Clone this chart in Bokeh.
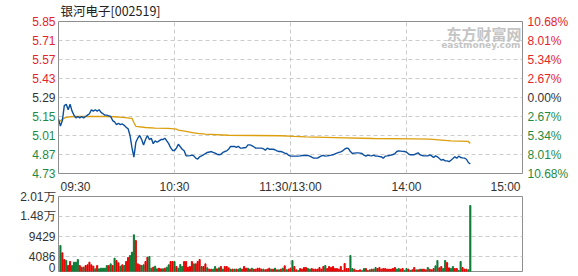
from bokeh.plotting import figure
from bokeh.models import FixedTicker, Range1d
from bokeh.layouts import column, row
from bokeh.core.properties import value
from bokeh.embed import file_html
from bokeh.resources import INLINE

# ---------------- data ----------------
title = "银河电子[002519]"
price_ticks = [5.85, 5.71, 5.57, 5.43, 5.29, 5.15, 5.01, 4.87, 4.73]
price_tick_labels = ["5.85", "5.71", "5.57", "5.43", "5.29", "5.15", "5.01", "4.87", "4.73"]
pct_labels = ["10.68%", "8.01%", "5.34%", "2.67%", "0.00%", "2.67%", "5.34%", "8.01%", "10.68%"]
tick_sides = ["up", "up", "up", "up", "flat", "down", "down", "down", "down"]
time_ticks = [0, 60, 120, 180, 240]
time_labels = ["09:30", "10:30", "11:30/13:00", "14:00", "15:00"]
vol_ticks = [0, 4086, 9429, 14800, 20100]
vol_tick_labels = ["0", "4086", "9429", "1.48万", "2.01万"]

# price per minute from 09:30 (minute 0) to minute 213
price = [
    5.13, 5.08, 5.12, 5.23, 5.24, 5.20, 5.24, 5.19, 5.16, 5.14,
    5.15, 5.14, 5.15, 5.14, 5.15, 5.16, 5.17, 5.20, 5.19, 5.20,
    5.19, 5.20, 5.18, 5.17, 5.16, 5.16, 5.155, 5.15, 5.12, 5.11,
    5.09, 5.10, 5.09, 5.095, 5.085, 5.07, 5.06, 5.01, 4.92, 4.85,
    4.96, 4.99, 5.01, 4.98, 4.94, 4.98, 5.01, 4.98, 4.99, 4.95,
    4.97, 4.96, 4.97, 4.98, 4.98, 4.99, 4.97, 4.95, 4.92, 4.90,
    4.90, 4.917, 4.946, 4.927, 4.909, 4.897, 4.86, 4.86, 4.862, 4.865,
    4.86, 4.843, 4.836, 4.853, 4.86, 4.868, 4.877, 4.885, 4.888, 4.892,
    4.885, 4.88, 4.872, 4.868, 4.872, 4.885, 4.892, 4.897, 4.909, 4.929,
    4.929, 4.929, 4.922, 4.931, 4.917, 4.917, 4.92, 4.922, 4.941, 4.941,
    4.935, 4.927, 4.917, 4.917, 4.917, 4.917, 4.912, 4.902, 4.917, 4.909,
    4.909, 4.909, 4.905, 4.897, 4.892, 4.892, 4.887, 4.88, 4.877, 4.865,
    4.858, 4.858, 4.858, 4.858, 4.858, 4.86, 4.863, 4.863, 4.863, 4.863,
    4.858, 4.85, 4.843, 4.843, 4.843, 4.853, 4.86, 4.863, 4.858, 4.86,
    4.863, 4.865, 4.868, 4.875, 4.88, 4.885, 4.89, 4.897, 4.909, 4.917,
    4.914, 4.892, 4.877, 4.88, 4.882, 4.882, 4.88, 4.877, 4.865, 4.858,
    4.865, 4.862, 4.86, 4.865, 4.858, 4.858, 4.855, 4.853, 4.843, 4.858,
    4.86, 4.863, 4.865, 4.87, 4.877, 4.892, 4.897, 4.895, 4.893, 4.892,
    4.887, 4.875, 4.868, 4.868, 4.868, 4.877, 4.882, 4.868, 4.863, 4.86,
    4.86, 4.86, 4.868, 4.86, 4.848, 4.86, 4.853, 4.84, 4.828, 4.833,
    4.823, 4.823, 4.818, 4.828, 4.84, 4.853, 4.843, 4.858, 4.848, 4.845,
    4.843, 4.835, 4.811, 4.80,
]

# average price line (minute, value) read at its visible steps
avg_minutes = [0, 1, 2, 3, 4, 6, 9, 24, 29, 33, 38, 39, 40, 45, 50, 57, 61, 62, 66,
               70, 72, 76, 88, 115, 122, 128, 143, 163, 183, 192, 203, 212, 213]
avg_values = [5.106, 5.118, 5.130, 5.138, 5.143, 5.148, 5.150, 5.150, 5.148, 5.143,
              5.136, 5.106, 5.078, 5.069, 5.064, 5.062, 5.057, 5.049, 5.040,
              5.030, 5.025, 5.020, 5.012, 5.008, 5.003, 5.000, 4.995, 4.988, 4.985,
              4.983, 4.971, 4.966, 4.951]

# volume per minute, minutes 1..213 ; 1 = up (red), 0 = down (green)
volume = [
    6970, 5000, 3220, 2950, 1600, 2680, 1600, 2500, 2500, 3220,
    1600, 1160, 1160, 1600, 1790, 2500, 1790, 1430, 715, 1600,
    715, 890, 890, 890, 1600, 1600, 2050, 1600, 3570, 2950,
    2320, 1430, 1790, 1600, 2680, 3750, 4290, 5180, 9830, 8310,
    2050, 1790, 1600, 1790, 2680, 3840, 4020, 890, 1160, 1430,
    715, 890, 715, 715, 890, 1160, 1790, 2680, 2680, 2680,
    1340, 890, 1880, 1340, 2680, 2680, 1160, 1340, 2680, 2050,
    2050, 2680, 3220, 1340, 1340, 2050, 980, 630, 630, 630,
    1340, 710, 980, 1340, 630, 1340, 1340, 980, 630, 630,
    630, 630, 630, 890, 630, 1340, 890, 890, 630, 890,
    630, 630, 890, 890, 630, 630, 450, 630, 890, 630,
    630, 890, 450, 450, 630, 890, 1520, 450, 630, 890,
    2950, 1340, 450, 270, 800, 630, 1070, 1070, 800, 630,
    800, 630, 630, 630, 1070, 630, 1340, 1610, 800, 1340,
    1070, 1340, 800, 800, 630, 1340, 270, 2140, 800, 800,
    4290, 800, 630, 270, 270, 450, 270, 800, 800, 270,
    450, 630, 630, 1070, 800, 1070, 630, 800, 800, 630,
    630, 630, 800, 1070, 630, 800, 630, 800, 270, 800,
    630, 270, 450, 1070, 450, 450, 630, 630, 630, 450,
    1070, 630, 450, 800, 1520, 2950, 980, 1340, 800, 2950,
    2410, 980, 800, 1340, 800, 800, 270, 2680, 1070, 630,
    630, 450, 17690,
]
volume_up = [
    0, 1, 1, 0, 1, 1, 0, 0, 0, 0,
    1, 1, 0, 1, 1, 1, 1, 1, 0, 1,
    0, 0, 0, 0, 0, 1, 0, 1, 0, 1,
    1, 0, 1, 0, 1, 1, 0, 0, 0, 1,
    1, 1, 0, 0, 1, 1, 0, 0, 1, 0,
    0, 1, 1, 0, 1, 0, 0, 1, 1, 0,
    1, 0, 0, 0, 1, 1, 1, 1, 1, 0,
    1, 1, 1, 0, 1, 1, 0, 1, 1, 0,
    0, 1, 0, 1, 0, 1, 1, 1, 0, 1,
    0, 1, 0, 0, 1, 1, 1, 0, 1, 0,
    1, 1, 1, 1, 1, 0, 1, 1, 1, 0,
    1, 0, 1, 0, 1, 0, 1, 0, 1, 1,
    0, 1, 1, 0, 1, 1, 1, 1, 0, 0,
    1, 1, 1, 1, 1, 1, 1, 0, 1, 1,
    1, 1, 1, 1, 1, 1, 1, 1, 1, 1,
    0, 0, 1, 1, 1, 1, 0, 0, 1, 1,
    0, 1, 0, 0, 1, 1, 1, 1, 1, 1,
    1, 1, 1, 1, 0, 0, 1, 1, 0, 0,
    1, 0, 1, 1, 0, 1, 0, 1, 1, 1,
    0, 1, 1, 1, 0, 0, 1, 1, 0, 0,
    1, 1, 0, 0, 1, 1, 0, 0, 1, 1,
    1, 0, 0,
]

# ---------------- styles / geometry ----------------
FONT = "Liberation Sans"
RED = "#e3242b"
GREEN = "#1f8a43"
DARK = "#333333"
GRID = "#cccccc"
FRAME = "#8e8e8e"
side_color = {"up": RED, "flat": DARK, "down": GREEN}

H = 276                 # page height
LW, MW, RW = 57, 466, 55
P_TOP, P_BOT = 21, 173  # price frame (canvas px)
V_TOP, V_BOT = 196, 271 # volume frame (canvas px)

minutes = list(range(len(price)))
vol_minutes = list(range(1, len(volume) + 1))
vol_colors = ["#e60000" if u else "#0b7a33" for u in volume_up]
label_colors = [side_color[s] for s in tick_sides]

x_range = Range1d(time_ticks[0], time_ticks[-1])
p_lo, p_hi = price_ticks[-1], price_ticks[0]
v_lo, v_hi = vol_ticks[0], vol_ticks[-1]

# ranges for the label strips, spanning the whole page height
kp = (p_hi - p_lo) / (P_BOT - P_TOP)
kv = (v_hi - v_lo) / (V_BOT - V_TOP)
strip_price_range = Range1d(p_lo - (H - P_BOT) * kp, p_hi + P_TOP * kp)
strip_vol_range = Range1d(v_lo - (H - V_BOT) * kv, v_hi + V_TOP * kv)


def bare(fig):
    fig.xaxis.visible = False
    fig.yaxis.visible = False
    fig.xgrid.visible = False
    fig.ygrid.visible = False
    fig.outline_line_color = None
    fig.background_fill_color = "white"
    fig.border_fill_color = "white"
    return fig


def style_grid(fig, xt, yt):
    fig.xaxis.visible = False
    fig.yaxis.visible = False
    fig.xgrid.ticker = FixedTicker(ticks=xt)
    fig.ygrid.ticker = FixedTicker(ticks=yt)
    for g in (fig.xgrid, fig.ygrid):
        g.grid_line_color = GRID
        g.grid_line_dash = "4 3"
        g.grid_line_width = 1
    fig.outline_line_color = FRAME
    fig.outline_line_width = 1
    fig.outline_line_alpha = 1
    fig.background_fill_color = "white"
    fig.border_fill_color = "white"


# ---------------- left label strip ----------------
L = bare(figure(width=LW, height=H, x_range=Range1d(0, LW), y_range=strip_price_range,
                output_backend="svg", toolbar_location=None, min_border=0))
L.extra_y_ranges = {"vol": strip_vol_range}
L.text(x=[LW - 2] * len(price_ticks), y=price_ticks, text=price_tick_labels,
       text_color=label_colors, text_align="right", text_baseline="middle",
       text_font=value(FONT), text_font_size="12px")
# the lowest volume label sits on the page bottom: lift it a little so it stays whole
vol_yoff = [-4] + [0] * (len(vol_ticks) - 1)
L.text(x=[LW - 2] * len(vol_ticks), y=vol_ticks, text=vol_tick_labels,
       text_color=DARK, text_align="right", text_baseline="middle",
       y_offset=vol_yoff,
       text_font=value(FONT), text_font_size="12px", y_range_name="vol")

# ---------------- right label strip ----------------
R = bare(figure(width=RW, height=H, x_range=Range1d(0, RW), y_range=strip_price_range,
                output_backend="svg", toolbar_location=None, min_border=0))
R.text(x=[4] * len(price_ticks), y=price_ticks, text=pct_labels,
       text_color=label_colors, text_align="left", text_baseline="middle",
       text_font=value(FONT), text_font_size="12px")

# ---------------- header (title) ----------------
hdr = bare(figure(width=MW, height=P_TOP - 1, x_range=x_range, y_range=Range1d(0, 1),
                  output_backend="svg", toolbar_location=None,
                  min_border_left=1, min_border_right=1, min_border_top=0, min_border_bottom=0))
hdr.text(x=[time_ticks[0]], y=[0.5], text=[title], x_offset=2, y_offset=0,
         text_align="left", text_baseline="middle", text_color="#222222",
         text_font=value("Noto Sans CJK SC"), text_font_size="12.5px")

# ---------------- price chart ----------------
p = figure(width=MW, height=P_BOT - P_TOP + 2, x_range=x_range,
           y_range=Range1d(p_lo, p_hi),
           output_backend="svg", toolbar_location=None,
           min_border_left=1, min_border_right=1,
           min_border_top=1, min_border_bottom=1)
style_grid(p, time_ticks[1:-1], price_ticks[1:-1])
p.line(avg_minutes, avg_values, line_color="#dc9e0c", line_width=1.3)
p.line(minutes, price, line_color="#0b4f9f", line_width=1.4)
# watermark
p.text(x=[time_ticks[-1]], y=[p_hi], text=["东方财富网"], x_offset=-1, y_offset=1,
       text_align="right", text_baseline="top", text_color="#c4c4c4",
       text_font=value("Noto Sans CJK SC"), text_font_size="15px", text_font_style="bold")
p.text(x=[time_ticks[-1]], y=[p_hi], text=["eastmoney.com"], x_offset=-2, y_offset=18,
       text_align="right", text_baseline="top", text_color="#c4c4c4",
       text_font=value("DejaVu Sans"), text_font_size="9px", text_font_style="bold")

# ---------------- time labels ----------------
tl = bare(figure(width=MW, height=V_TOP - 1 - (P_BOT + 1), x_range=x_range,
                 y_range=Range1d(0, 1), output_backend="svg", toolbar_location=None,
                 min_border_left=1, min_border_right=1, min_border_top=0, min_border_bottom=0))
tl.text(x=time_ticks, y=[0.5] * len(time_ticks), text=time_labels,
        x_offset=[2, 0, 0, 0, -2], y_offset=2,
        text_align=["left", "center", "center", "center", "right"],
        text_baseline="middle", text_color=DARK,
        text_font=value(FONT), text_font_size="12px")

# ---------------- volume chart ----------------
v = figure(width=MW, height=H - (V_TOP - 1), x_range=x_range,
           y_range=Range1d(v_lo, v_hi),
           output_backend="svg", toolbar_location=None,
           min_border_left=1, min_border_right=1,
           min_border_top=1, min_border_bottom=H - V_BOT)
style_grid(v, time_ticks[1:-1], vol_ticks[1:-1])
v.vbar(x=vol_minutes, top=volume, width=0.55, color=vol_colors)

middle = column(hdr, p, tl, v, spacing=0)
layout = row(L, middle, R, spacing=0)
open("out.html", "w").write(file_html(layout, INLINE))
